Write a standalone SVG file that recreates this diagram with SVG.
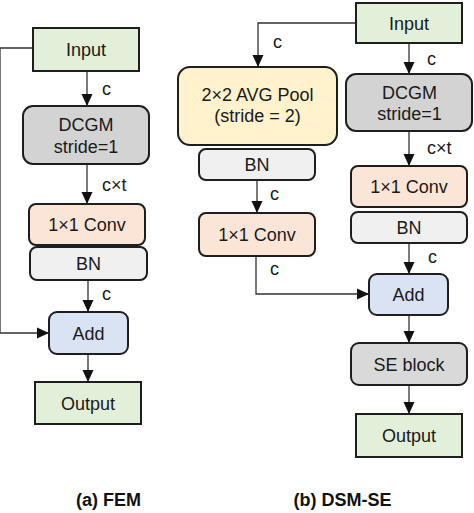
<svg xmlns="http://www.w3.org/2000/svg" width="474" height="513" viewBox="0 0 474 513">
<defs>
<marker id="arr" markerUnits="userSpaceOnUse" markerWidth="12" markerHeight="12" viewBox="0 0 12 12" refX="12" refY="6" orient="auto">
<path d="M0,0.5 L12,6 L0,11.5 Z" fill="#111"/>
</marker>
</defs>
<style>
.box{stroke:#1e1e1e;stroke-width:2}
.green{fill:#e2efd9}
.gray{fill:#d3d3d3}
.peach{fill:#fbe5d6}
.light{fill:#f0f0f0}
.blue{fill:#dae3f3}
.yellow{fill:#fff2cc}
.se{fill:#d9d9d9}
text{font-family:"Liberation Sans",Arial,sans-serif;font-size:18px;fill:#1a1a1a}
.t{text-anchor:middle}
.lbl{font-size:18px}
.cap{font-weight:bold;font-size:18px;text-anchor:middle;fill:#111}
.con{fill:none;stroke:#333;stroke-width:1.3}
</style>
<rect width="474" height="513" fill="#fff"/>

<g id="connectors">
<path class="con" d="M33,48 H0 V333 H49" marker-end="url(#arr)"/>
<path class="con" d="M87,71 V106" marker-end="url(#arr)"/>
<path class="con" d="M87,164 V204" marker-end="url(#arr)"/>
<path class="con" d="M88,280 V312" marker-end="url(#arr)"/>
<path class="con" d="M88,354 V382" marker-end="url(#arr)"/>
<path class="con" d="M356,23 H258 V67" marker-end="url(#arr)"/>
<path class="con" d="M409,43 V74" marker-end="url(#arr)"/>
<path class="con" d="M409,131 V166" marker-end="url(#arr)"/>
<path class="con" d="M257,180 V213" marker-end="url(#arr)"/>
<path class="con" d="M409,243 V274" marker-end="url(#arr)"/>
<path class="con" d="M256,256 V294 H369" marker-end="url(#arr)"/>
<path class="con" d="M409,315 V343" marker-end="url(#arr)"/>
<path class="con" d="M409,385 V414" marker-end="url(#arr)"/>
<text class="lbl" x="102" y="95">c</text>
<text class="lbl" x="102" y="191">c×t</text>
<text class="lbl" x="102" y="300">c</text>
<text class="lbl" x="273" y="48">c</text>
<text class="lbl" x="427" y="65">c</text>
<text class="lbl" x="427" y="154">c×t</text>
<text class="lbl" x="270" y="200">c</text>
<text class="lbl" x="428" y="263">c</text>
<text class="lbl" x="270" y="275">c</text>
</g>

<g id="fem-input"><rect class="box green" x="33" y="28" width="106" height="43"/><text class="t" x="86" y="56">Input</text></g>
<g id="fem-dcgm"><rect class="box gray" x="23" y="106" width="126" height="58" rx="10"/><text class="t" x="86" y="131">DCGM</text><text class="t" x="86" y="153">stride=1</text></g>
<g id="fem-conv"><rect class="box peach" x="29" y="204" width="116" height="41" rx="7"/><text class="t" x="87" y="231">1×1 Conv</text></g>
<g id="fem-bn"><rect class="box light" x="30" y="247" width="117" height="33" rx="7"/><text class="t" x="88.5" y="270">BN</text></g>
<g id="fem-add"><rect class="box blue" x="49" y="312" width="79" height="42" rx="8"/><text class="t" x="88.5" y="339.5">Add</text></g>
<g id="fem-output"><rect class="box green" x="35" y="382" width="106" height="42"/><text class="t" x="88" y="409.5">Output</text></g>

<g id="dsm-input"><rect class="box green" x="356" y="3" width="106" height="40"/><text class="t" x="409" y="29.5">Input</text></g>
<g id="dsm-pool"><rect class="box yellow" x="178" y="67" width="159" height="78" rx="12"/><text class="t" x="257.5" y="100.5">2×2 AVG Pool</text><text class="t" x="257.5" y="122">(stride = 2)</text></g>
<g id="dsm-dcgm"><rect class="box gray" x="346" y="74" width="126" height="57" rx="10"/><text class="t" x="409.5" y="99">DCGM</text><text class="t" x="409.5" y="120">stride=1</text></g>
<g id="dsm-bn1"><rect class="box light" x="199" y="149" width="116" height="31" rx="7"/><text class="t" x="257" y="171">BN</text></g>
<g id="dsm-conv1"><rect class="box peach" x="199" y="213" width="116" height="43" rx="7"/><text class="t" x="257" y="241">1×1 Conv</text></g>
<g id="dsm-conv2"><rect class="box peach" x="351" y="166" width="116" height="41" rx="7"/><text class="t" x="409" y="193">1×1 Conv</text></g>
<g id="dsm-bn2"><rect class="box light" x="351" y="212" width="116" height="31" rx="7"/><text class="t" x="409" y="234">BN</text></g>
<g id="dsm-add"><rect class="box blue" x="369" y="274" width="79" height="41" rx="8"/><text class="t" x="408.5" y="301">Add</text></g>
<g id="dsm-se"><rect class="box se" x="351" y="343" width="116" height="42" rx="8"/><text class="t" x="409" y="370.5">SE block</text></g>
<g id="dsm-output"><rect class="box green" x="356" y="414" width="106" height="43"/><text class="t" x="409" y="442">Output</text></g>

<g id="captions">
<text class="cap" x="108.5" y="506">(a) FEM</text>
<text class="cap" x="342.5" y="506">(b) DSM-SE</text>
</g>
</svg>
